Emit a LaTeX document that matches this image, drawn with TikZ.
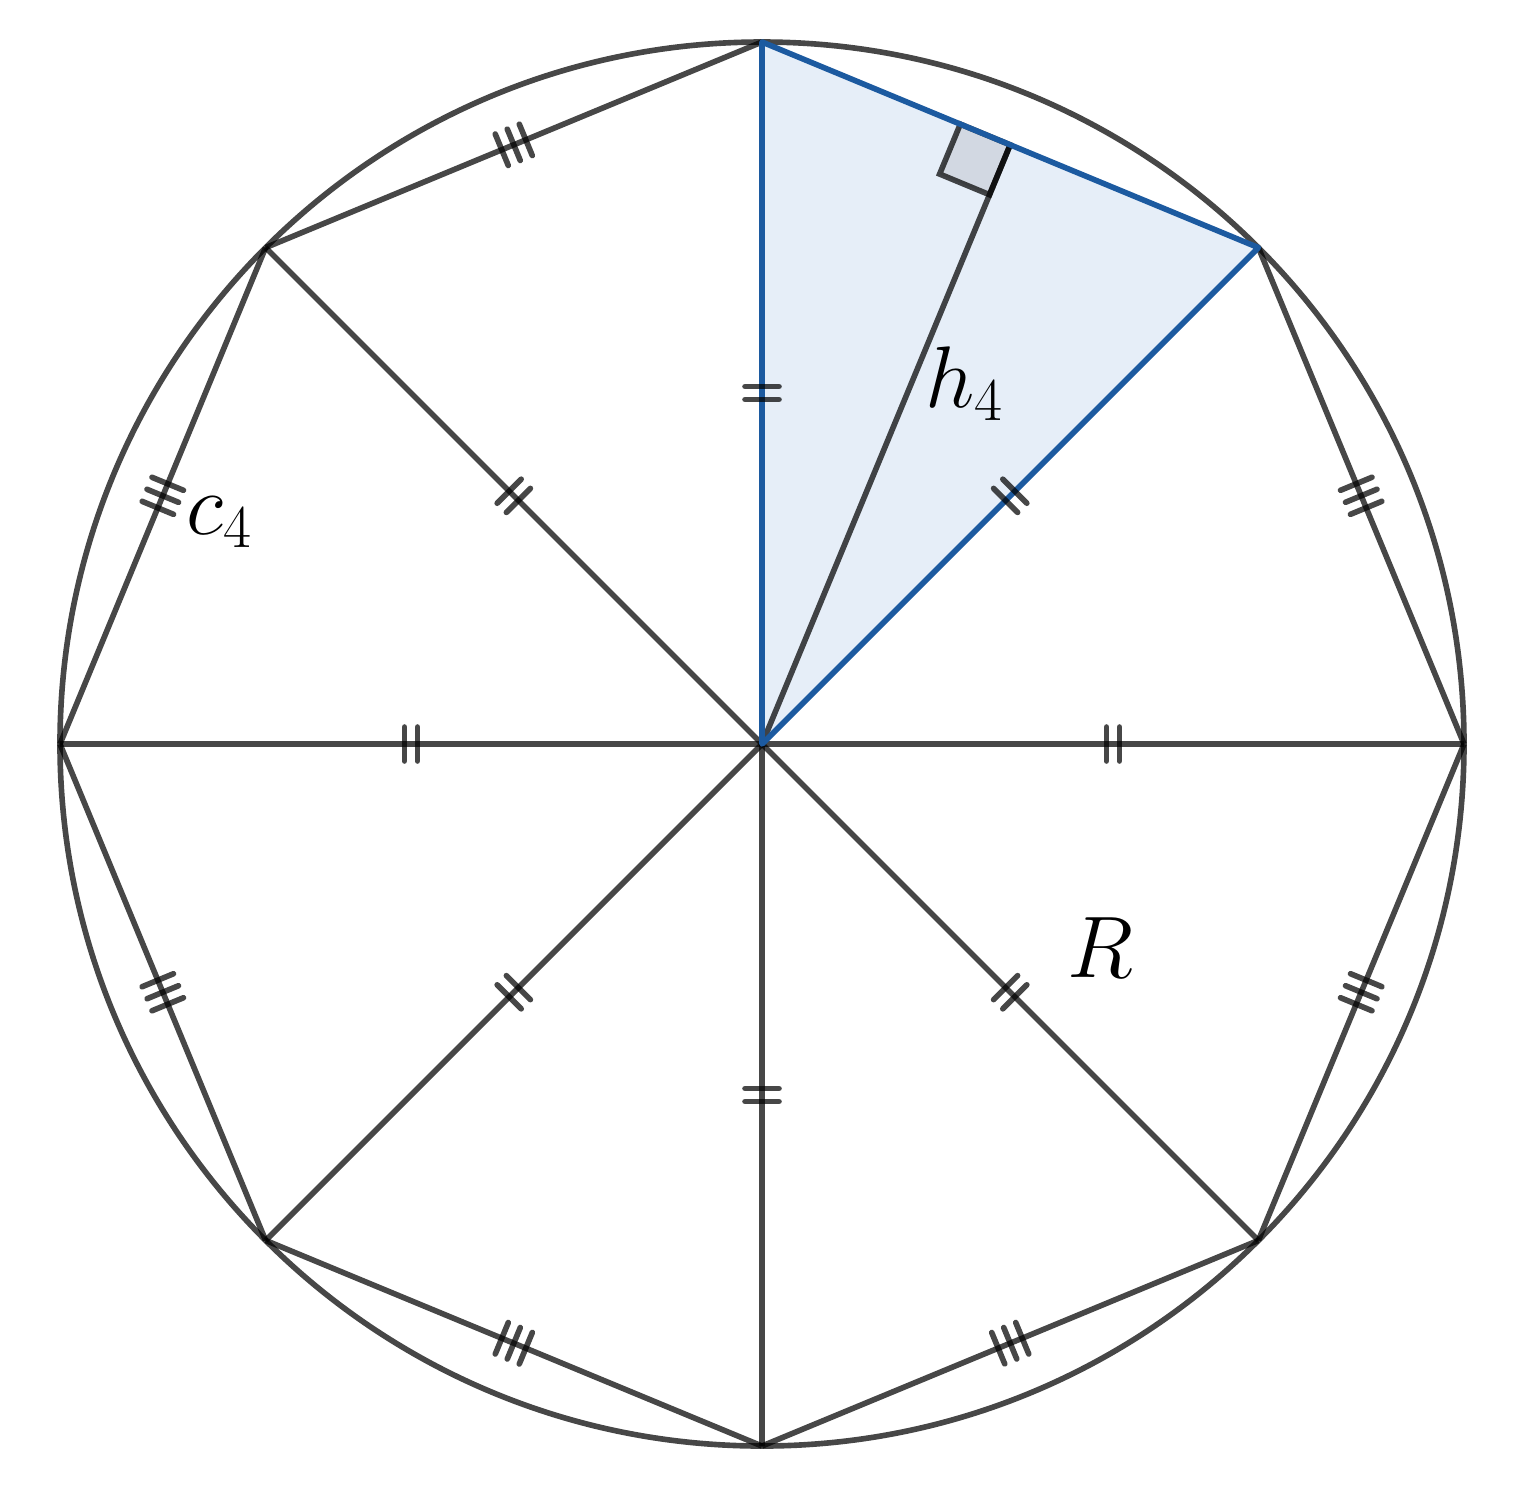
\documentclass[tikz,border=0pt]{standalone}
\usetikzlibrary{calc}
\usetikzlibrary{decorations.markings}

\definecolor{edgeblue}{RGB}{28,90,160}
\definecolor{fillblue}{RGB}{230,238,248}
\definecolor{rightfill}{RGB}{210,216,226}

\tikzset{
    gline/.style={draw=black, draw opacity=0.72, line width=1.6pt},
    bline/.style={draw=edgeblue, line width=1.6pt},
    tickline/.style={draw=black, draw opacity=0.72, line width=1.6pt, line cap=round},
    twotick/.style={postaction={decorate, decoration={markings,
        mark=at position 0.5 with {
            \draw [tickline] (-0.065,-0.17) -- (-0.065,0.17);
            \draw [tickline] (0.065,-0.17) -- (0.065,0.17);}}}},
    threetick/.style={postaction={decorate, decoration={markings,
        mark=at position 0.5 with {
            \draw [tickline] (-0.13,-0.17) -- (-0.13,0.17);
            \draw [tickline] (0,-0.17) -- (0,0.17);
            \draw [tickline] (0.13,-0.17) -- (0.13,0.17);}}}},
    lbl/.style={font=\fontsize{24}{29}\selectfont},
}

\begin{document}
\begin{tikzpicture}
    \useasboundingbox (-7.62,-7.44) rectangle (7.74,7.44);

    \coordinate (O) at (0,0);
    \coordinate (P0) at (0:7.02);
    \coordinate (P1) at (45:7.02);
    \coordinate (P2) at (90:7.02);
    \coordinate (P3) at (135:7.02);
    \coordinate (P4) at (180:7.02);
    \coordinate (P5) at (225:7.02);
    \coordinate (P6) at (270:7.02);
    \coordinate (P7) at (315:7.02);
    \coordinate (M) at ($(P1)!0.5!(P2)$);

    % shaded triangle
    \fill [fillblue] (O) -- (P2) -- (P1) -- cycle;

    % right angle at the foot of h4
    \coordinate (Ma) at ($(M)!0.54cm!(P2)$);
    \coordinate (Mb) at ($(M)!0.54cm!(O)$);
    \filldraw [fill=rightfill, gline] (M) -- (Ma) -- ($(Ma)+(Mb)-(M)$) -- (Mb) -- cycle;

    % circle
    \draw [gline] (O) circle (7.02);

    % radii
    \draw [gline, twotick] (O) -- (P0);
    \draw [gline, twotick] (O) -- (P3);
    \draw [gline, twotick] (O) -- (P4);
    \draw [gline, twotick] (O) -- (P5);
    \draw [gline, twotick] (O) -- (P6);
    \draw [gline, twotick] (O) -- (P7);

    % sides
    \draw [gline, threetick] (P0) -- (P7);
    \draw [gline, threetick] (P7) -- (P6);
    \draw [gline, threetick] (P6) -- (P5);
    \draw [gline, threetick] (P5) -- (P4);
    \draw [gline, threetick] (P4) -- (P3);
    \draw [gline, threetick] (P3) -- (P2);
    \draw [gline, threetick] (P1) -- (P0);

    % apothem
    \draw [gline] (O) -- (M);

    % blue triangle
    \draw [bline, line join=round] (O) -- (P2) -- (P1) -- cycle;
    \path [twotick] (O) -- (P2);
    \path [twotick] (O) -- (P1);

    % labels
    \path (-5.42,2.22) node [lbl] (c4) {$c_4$};
    \path (2.03,3.6) node [lbl] (h4) {$h_4$};
    \path (3.38,-2.04) node [lbl] (r) {$R$};
\end{tikzpicture}
\end{document}
